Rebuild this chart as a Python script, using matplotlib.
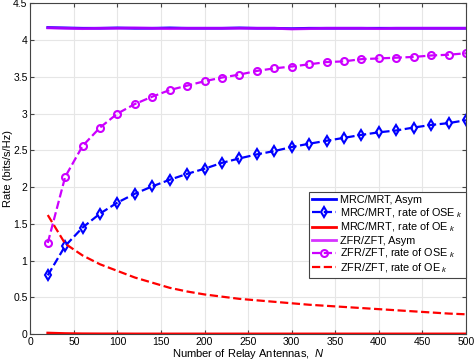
import matplotlib.pyplot as plt
import numpy as np

plt.rcParams['font.family'] = ['Liberation Sans', 'DejaVu Sans']
plt.rcParams['mathtext.fontset'] = 'custom'
plt.rcParams['mathtext.it'] = 'Liberation Sans:italic'
plt.rcParams['mathtext.rm'] = 'Liberation Sans'

N = np.arange(20, 501, 20)

mrc_asym = [4.17, 4.165, 4.16, 4.16, 4.165, 4.16, 4.16, 4.165, 4.16, 4.16, 4.16, 4.165, 4.16,
            4.16, 4.155, 4.16, 4.16, 4.16, 4.16, 4.16, 4.16, 4.16, 4.16, 4.16, 4.16]
mrc_ose = [0.80, 1.20, 1.45, 1.64, 1.79, 1.91, 2.01, 2.10, 2.18, 2.25, 2.33, 2.39, 2.445,
           2.49, 2.545, 2.59, 2.63, 2.67, 2.71, 2.745, 2.77, 2.81, 2.845, 2.87, 2.91]
mrc_oe = [0.015, 0.008, 0.005, 0.004, 0.004, 0.003, 0.003, 0.003, 0.003, 0.003, 0.003, 0.003, 0.003,
          0.003, 0.003, 0.003, 0.003, 0.003, 0.003, 0.003, 0.003, 0.003, 0.003, 0.003, 0.003]
zf_asym = [4.165, 4.16, 4.155, 4.16, 4.16, 4.165, 4.16, 4.155, 4.16, 4.16, 4.16, 4.16, 4.16,
           4.16, 4.15, 4.155, 4.16, 4.16, 4.16, 4.155, 4.16, 4.16, 4.16, 4.16, 4.16]
zf_ose = [1.24, 2.14, 2.56, 2.81, 3.00, 3.13, 3.23, 3.32, 3.38, 3.44, 3.49, 3.53, 3.58,
          3.615, 3.64, 3.67, 3.70, 3.71, 3.74, 3.75, 3.76, 3.77, 3.79, 3.80, 3.82]
zf_oe = [1.62, 1.23, 1.07, 0.95, 0.86, 0.77, 0.70, 0.63, 0.58, 0.54, 0.51, 0.48, 0.46,
         0.44, 0.42, 0.40, 0.385, 0.37, 0.355, 0.34, 0.325, 0.31, 0.295, 0.28, 0.27]

fig = plt.figure(figsize=(4.74, 3.64), dpi=100)
ax = fig.add_axes([0.064, 0.082, 0.919, 0.909])

ax.plot(N, mrc_asym, '-', color='#0000ff', lw=2, label='MRC/MRT, Asym')
ax.plot(N, mrc_ose, '--', color='#0000ff', lw=1.6, marker='d', ms=5.5, mfc='none', mew=1.5,
        label='MRC/MRT, rate of OSE$_{\\ k}$')
ax.plot(N, mrc_oe, '-', color='#ff0000', lw=2, label='MRC/MRT, rate of OE$_{\\ k}$')
ax.plot(N, zf_asym, '-', color='#cc00ff', lw=2, alpha=0.8, label='ZFR/ZFT, Asym')
ax.plot(N, zf_ose, '--', color='#cc00ff', lw=1.6, marker='o', ms=5, mfc='none', mew=1.5,
        label='ZFR/ZFT, rate of OSE$_{\\ k}$')
ax.plot(N, zf_oe, '--', color='#ff0000', lw=1.6, label='ZFR/ZFT, rate of OE$_{\\ k}$')

ax.set_xlim(0, 500)
ax.set_ylim(0, 4.5)
ax.set_xticks(np.arange(0, 501, 50))
ax.set_yticks(np.arange(0, 4.51, 0.5))
ax.set_yticklabels(['0', '0.5', '1', '1.5', '2', '2.5', '3', '3.5', '4', '4.5'])
ax.grid(True, color='#e6e6e6', lw=0.8)
ax.set_axisbelow(True)
ax.tick_params(direction='in', top=True, right=True, labelsize=7.5, length=3, pad=2,
               color='#444444')
for s in ax.spines.values():
    s.set_color('#444444')
    s.set_linewidth(0.8)

ax.set_xlabel('Number of Relay Antennas,  $N$', fontsize=8, labelpad=0)
ax.set_ylabel('Rate (bits/s/Hz)', fontsize=8, labelpad=0)

leg = ax.legend(loc='upper right', bbox_to_anchor=(1.0, 0.43), fontsize=7.8, fancybox=False,
                edgecolor='#444444', framealpha=1, borderaxespad=0, handlelength=2.2,
                labelspacing=0.1, handletextpad=0.4, borderpad=0.3)
leg.get_frame().set_linewidth(0.8)

fig.savefig('out.png', dpi=100)
